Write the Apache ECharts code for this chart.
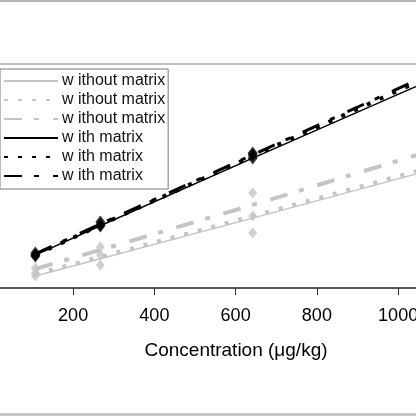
<!DOCTYPE html>
<html>
<head>
<meta charset="utf-8">
<script src="https://cdn.jsdelivr.net/npm/echarts@6/dist/echarts.min.js"></script>
<style>
    html, body {margin: 0; padding: 0; background: #fff;}
    #chart {width: 416px; height: 416px;}
</style>
</head>
<body>
<div id="chart"></div>
<script>
// concentrations (µg/kg)
var concentrations = [107, 267, 642, 1070];
var xTicks = [200, 400, 600, 800, 1000];

// legend names -> shown text
var seriesNames = ['wo1', 'wo2', 'wo3', 'w1', 'w2', 'w3'];
var legendText = {
    wo1: 'w ithout matrix', wo2: 'w ithout matrix', wo3: 'w ithout matrix',
    w1: 'w ith matrix', w2: 'w ith matrix', w3: 'w ith matrix'
};

// fitted lines (signal, relative units)
var fitWo1 = [5.4, 13.1, 31.2, 52.2];
var fitWo2 = [6.2, 13.9, 32.1, 53.4];
var fitWo3 = [8.5, 17.0, 37.1, 60.7];
var fitW1 = [14.7, 27.8, 58.0, 92.0];
var fitW2 = [14.7, 28.1, 58.9, 93.8];
var fitW3 = [15.2, 28.6, 59.4, 94.8];

// measured points
var ptsWo1 = [5.4, 10.3, 32.1];
var ptsWo2 = [6.7, 14.7, 24.6];
var ptsWo3 = [8.9, 18.3, 42.4];
var ptsW1 = [14.3, 27.7, 60.3];
var ptsW2 = [15.6, 29.5, 58.0];
var ptsW3 = [14.7, 28.1, 59.4];

function pairs(vals) {
    var out = [];
    for (var i = 0; i < vals.length; i++) {
        out.push([concentrations[i], vals[i]]);
    }
    return out;
}

var gray = '#c4c4c4';
var dotted = [4, 10];
var dashDot = [18, 12, 5, 14];

function lineSeries(name, vals, color, width, type) {
    return {
        name: name,
        type: 'line',
        data: pairs(vals),
        symbol: 'none',
        silent: true,
        lineStyle: {color: color, width: width, type: type},
        itemStyle: {color: color},
        z: color === '#000' ? 4 : 2
    };
}

function pointSeries(vals, color, size) {
    return {
        type: 'scatter',
        data: pairs(vals),
        symbol: 'diamond',
        symbolSize: size,
        silent: true,
        itemStyle: {color: color},
        z: color === '#000' ? 5 : 3
    };
}

var myChart = echarts.init(document.getElementById('chart'));
var option = {
    animation: false,
    backgroundColor: '#fff',
    textStyle: {fontFamily: 'Liberation Sans, Arial, sans-serif'},
    // only part of the original plot is visible, so the axis is cut at both ends
    grid: {left: 0, right: 0, top: 64, bottom: 128, containLabel: false, outerBoundsMode: 'none'},
    legend: {
        orient: 'vertical',
        left: 0,
        top: 69,
        data: seriesNames,
        formatter: function (name) {
            return legendText[name];
        },
        itemWidth: 54,
        itemHeight: 14,
        itemGap: 3,
        padding: [4, 3, 5, 3],
        borderColor: '#7a7a7a',
        borderWidth: 1,
        backgroundColor: '#fff',
        selectedMode: false,
        itemStyle: {opacity: 0},
        textStyle: {color: '#111', fontSize: 16, lineHeight: 16, padding: [0, 0, 0, -1]}
    },
    xAxis: {
        type: 'value',
        min: 20,
        max: 1044,
        name: 'Concentration (μg/kg)',
        nameLocation: 'middle',
        nameGap: 53,
        nameTextStyle: {color: '#000', fontSize: 19, padding: [0, 0, 0, 56]},
        axisLine: {show: true, lineStyle: {color: '#555', width: 2}},
        axisTick: {show: true, inside: false, length: 7, customValues: xTicks, lineStyle: {color: '#333', width: 1}},
        axisLabel: {
            color: '#000', fontSize: 18, margin: 19, customValues: xTicks,
            showMinLabel: true, showMaxLabel: true, hideOverlap: false,
            formatter: function (v) {
                return String(v);
            }
        },
        splitLine: {show: false}
    },
    yAxis: {
        type: 'value',
        min: 0,
        max: 100,
        interval: 100,
        axisLine: {show: false},
        axisTick: {show: false},
        axisLabel: {show: false},
        splitLine: {show: true, lineStyle: {color: '#c0c0c0', width: 2}}
    },
    graphic: [
        {type: 'rect', shape: {x: 0, y: 0, width: 416, height: 2}, style: {fill: '#b4b4b4'}, silent: true},
        {type: 'rect', shape: {x: 0, y: 413, width: 416, height: 3}, style: {fill: '#c8c8c8'}, silent: true}
    ],
    series: [
        lineSeries('wo1', fitWo1, gray, 1.5, 'solid'),
        lineSeries('wo2', fitWo2, gray, 4, dotted),
        lineSeries('wo3', fitWo3, gray, 4, dashDot),
        lineSeries('w1', fitW1, '#000', 1.5, 'solid'),
        lineSeries('w2', fitW2, '#000', 4, dotted),
        lineSeries('w3', fitW3, '#000', 3, dashDot),
        pointSeries(ptsWo1, gray, [9, 11]),
        pointSeries(ptsWo2, gray, [9, 11]),
        pointSeries(ptsWo3, gray, [9, 11]),
        pointSeries(ptsW1, '#000', [10, 13]),
        pointSeries(ptsW2, '#000', [10, 13]),
        pointSeries(ptsW3, '#000', [10, 13])
    ]
};
myChart.setOption(option);
</script>
</body>
</html>
